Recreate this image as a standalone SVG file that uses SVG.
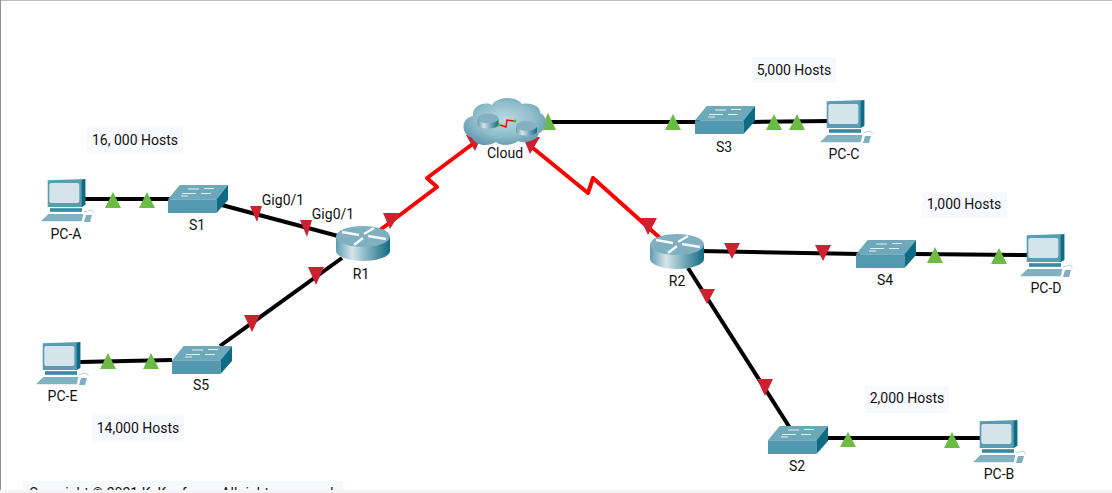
<svg xmlns="http://www.w3.org/2000/svg" width="1112" height="493" viewBox="0 0 1112 493">
<style>
text{font-family:Roboto,"Liberation Sans",sans-serif;font-size:14px;fill:#111;text-anchor:middle}
.note{fill:#f8f9fe}
.eth{fill:none;stroke:#000;stroke-width:4}
.ser{fill:none;stroke:#f00;stroke-width:4;stroke-linejoin:round}
.up{fill:#6cbb45}
.dn{fill:#cf2030}
</style>
<defs>
<linearGradient id="rg" x1="0" x2="1" y1="0" y2="0"><stop offset="0" stop-color="#5f9cae"/><stop offset=".3" stop-color="#d5e6eb"/><stop offset=".65" stop-color="#6fa5b5"/><stop offset="1" stop-color="#136b82"/></linearGradient>
<radialGradient id="cg" cx=".5" cy=".45" r=".6"><stop offset="0" stop-color="#bcd8e0"/><stop offset=".6" stop-color="#8fbccb"/><stop offset="1" stop-color="#5e98ac"/></radialGradient>
<g id="pc">
<path d="M6.700 1.300 44.300 0V25.700L40.700 28H6.700Z" fill="#5a9db2"/>
<path d="M40.700 1 44.300 0V25.700L40.700 28Z" fill="#0f6a84"/>
<rect x="8.300" y="4" width="30" height="20" rx="2" fill="#d5e3ea"/>
<path d="M9 29H41V33H9Z" fill="#5d9db1"/>
<path d="M9 31H41" stroke="#0f6a84" stroke-width=".8"/>
<path d="M7.300 35H42.300L40.700 42.300H0Z" fill="#80b2c1"/>
<path d="M43 33 Q53 29 52 34" fill="none" stroke="#b9d2da" stroke-width="1"/>
<path d="M45 36H51L49 43H43Z" fill="#7fb0c0"/>
</g>
<g id="sw">
<path d="M0 14.300 11.700 0H60L48.500 14.300Z" fill="#6ea8bb"/>
<rect y="14.300" width="48.500" height="13.700" fill="#5498b0"/>
<path d="M48.500 14.300 60 0V15L48.500 28Z" fill="#0f6a84"/>
<path d="M20 4H31M36 3.500H46M14 8.500H28M33 8.500H43M13 11H20" stroke="#e6f1f4" stroke-width="1.200"/>
</g>
<g id="rt">
<path d="M0 11V25A27 10 0 0 0 54 25V11Z" fill="url(#rg)"/>
<ellipse cx="27" cy="10.500" rx="27" ry="10.500" fill="#7fb0c1"/>
<path d="M6 6 23 9M28 8 38 2M32 10 50 13M27 12 18 19" stroke="#f4f9fb" stroke-width="2.500" fill="none"/>
</g>
</defs>
<rect width="1112" height="493" fill="#fff"/>
<rect width="1112" height="1" fill="#bdbec4"/>
<rect width="1" height="490" fill="#8a929c"/>
<g id="connectors">
<path class="eth" d="M85 199H170"/>
<path class="eth" d="M218 204 338 236"/>
<path class="eth" d="M342 258 220 346"/>
<path class="eth" d="M80 362 172 360"/>
<path class="ser" d="M380 230 437 187 427 178 478 140"/>
<path class="ser" d="M528 144 588 193 593 178 660 238"/>
<path class="eth" d="M545 122H700"/>
<path class="eth" d="M750 122 830 121"/>
<path class="eth" d="M700 251 860 254"/>
<path class="eth" d="M915 254 1030 255"/>
<path class="eth" d="M688 268 790 428"/>
<path class="eth" d="M825 438H980"/>
<path class="up" d="M105 208 113 192 121 208ZM139 208 147 192 155 208Z"/>
<path class="up" d="M100 369 108 353 116 369ZM143 369 151 353 159 369Z"/>
<path class="up" d="M540 130 548 113 556 130ZM665 130 673 114 681 130ZM766 130 774 114 782 130ZM789 130 797 114 805 130Z"/>
<path class="up" d="M927 263 935 247 943 263ZM991 264 999 248 1007 264ZM840 447 848 432 856 447ZM944 448 952 432 960 448Z"/>
<path class="dn" d="M250 206H262L257 222ZM300 220H312L307 237Z"/>
<path class="dn" d="M308 267H324L316 285ZM244 315H260L252 332Z"/>
<path class="dn" d="M724 243H740L732 259ZM815 245H831L823 261ZM699 289H715L707 304ZM757 379H773L765 396Z"/>
<path class="dn" d="M383 213H400L390 229ZM640 218H657L648 235ZM466 135H482L475 151ZM523 137H540L530 154Z"/>
</g>
<rect class="note" x="87" y="127" width="96" height="26"/>
<text x="135" y="144.500">16, 000 Hosts</text>
<rect class="note" x="92" y="415" width="92" height="26"/>
<text x="138" y="432.500">14,000 Hosts</text>
<rect class="note" x="752" y="57" width="84" height="26"/>
<text x="794" y="74.500">5,000 Hosts</text>
<rect class="note" x="922" y="192" width="85" height="26"/>
<text x="964" y="209">1,000 Hosts</text>
<rect class="note" x="865" y="386" width="84" height="27"/>
<text x="907" y="403">2,000 Hosts</text>
<g id="PC-A"><use href="#pc" x="41" y="179"/><text x="66" y="239">PC-A</text></g>
<g id="S1"><use href="#sw" x="168" y="185"/><text x="197" y="230">S1</text></g>
<g id="R1"><use href="#rt" x="336" y="226"/><text x="361" y="279">R1</text></g>
<g id="PC-E"><use href="#pc" x="36" y="342"/><text x="62.500" y="401">PC-E</text></g>
<g id="S5"><use href="#sw" x="172" y="346"/><text x="201" y="390">S5</text></g>
<g id="Cloud">
<path d="M472 138C460 134 461 118 473 116 472 106 484 101 492 105 498 96 516 96 522 104 532 102 541 107 540 113 548 116 548 130 539 133 538 141 524 144 518 141 512 146 500 146 496 142 488 147 476 146 472 138Z" fill="url(#cg)"/>
<path d="M477.500 119V125A10.500 3.500 0 0 0 498.500 125V119Z" fill="url(#rg)"/><ellipse cx="488" cy="118.500" rx="10.500" ry="5" fill="#84b1c1"/>
<path d="M516 127V132A10.500 3.500 0 0 0 537 132V127Z" fill="url(#rg)"/><ellipse cx="526.500" cy="126" rx="10.500" ry="5" fill="#84b1c1"/>
<path d="M500 125 506 127 507 120 514 121" fill="none" stroke="#f00" stroke-width="1.500"/>
<circle cx="499" cy="125" r="1.500" fill="#3c3"/><circle cx="515" cy="121" r="1.500" fill="#3c3"/>
<text x="505" y="158">Cloud</text>
</g>
<g id="S3"><use href="#sw" x="695" y="106"/><text x="724" y="152">S3</text></g>
<g id="PC-C"><use href="#pc" x="820" y="100"/><text x="844" y="159">PC-C</text></g>
<g id="R2"><use href="#rt" x="650" y="234"/><text x="677" y="286">R2</text></g>
<g id="S4"><use href="#sw" x="856" y="240"/><text x="885" y="285">S4</text></g>
<g id="PC-D"><use href="#pc" x="1020" y="234"/><text x="1046" y="293">PC-D</text></g>
<g id="S2"><use href="#sw" x="768" y="426"/><text x="797" y="471">S2</text></g>
<g id="PC-B"><use href="#pc" x="973" y="420"/><text x="999" y="479">PC-B</text></g>
<text x="283" y="205">Gig0/1</text>
<text x="333" y="219">Gig0/1</text>
<rect class="note" x="23" y="481" width="320" height="9"/>
<text x="183" y="498">Copyright © 2021 K. Kaufman. All rights reserved.</text>
<rect y="490" width="1112" height="3" fill="#f4f4f4"/>
</svg>
